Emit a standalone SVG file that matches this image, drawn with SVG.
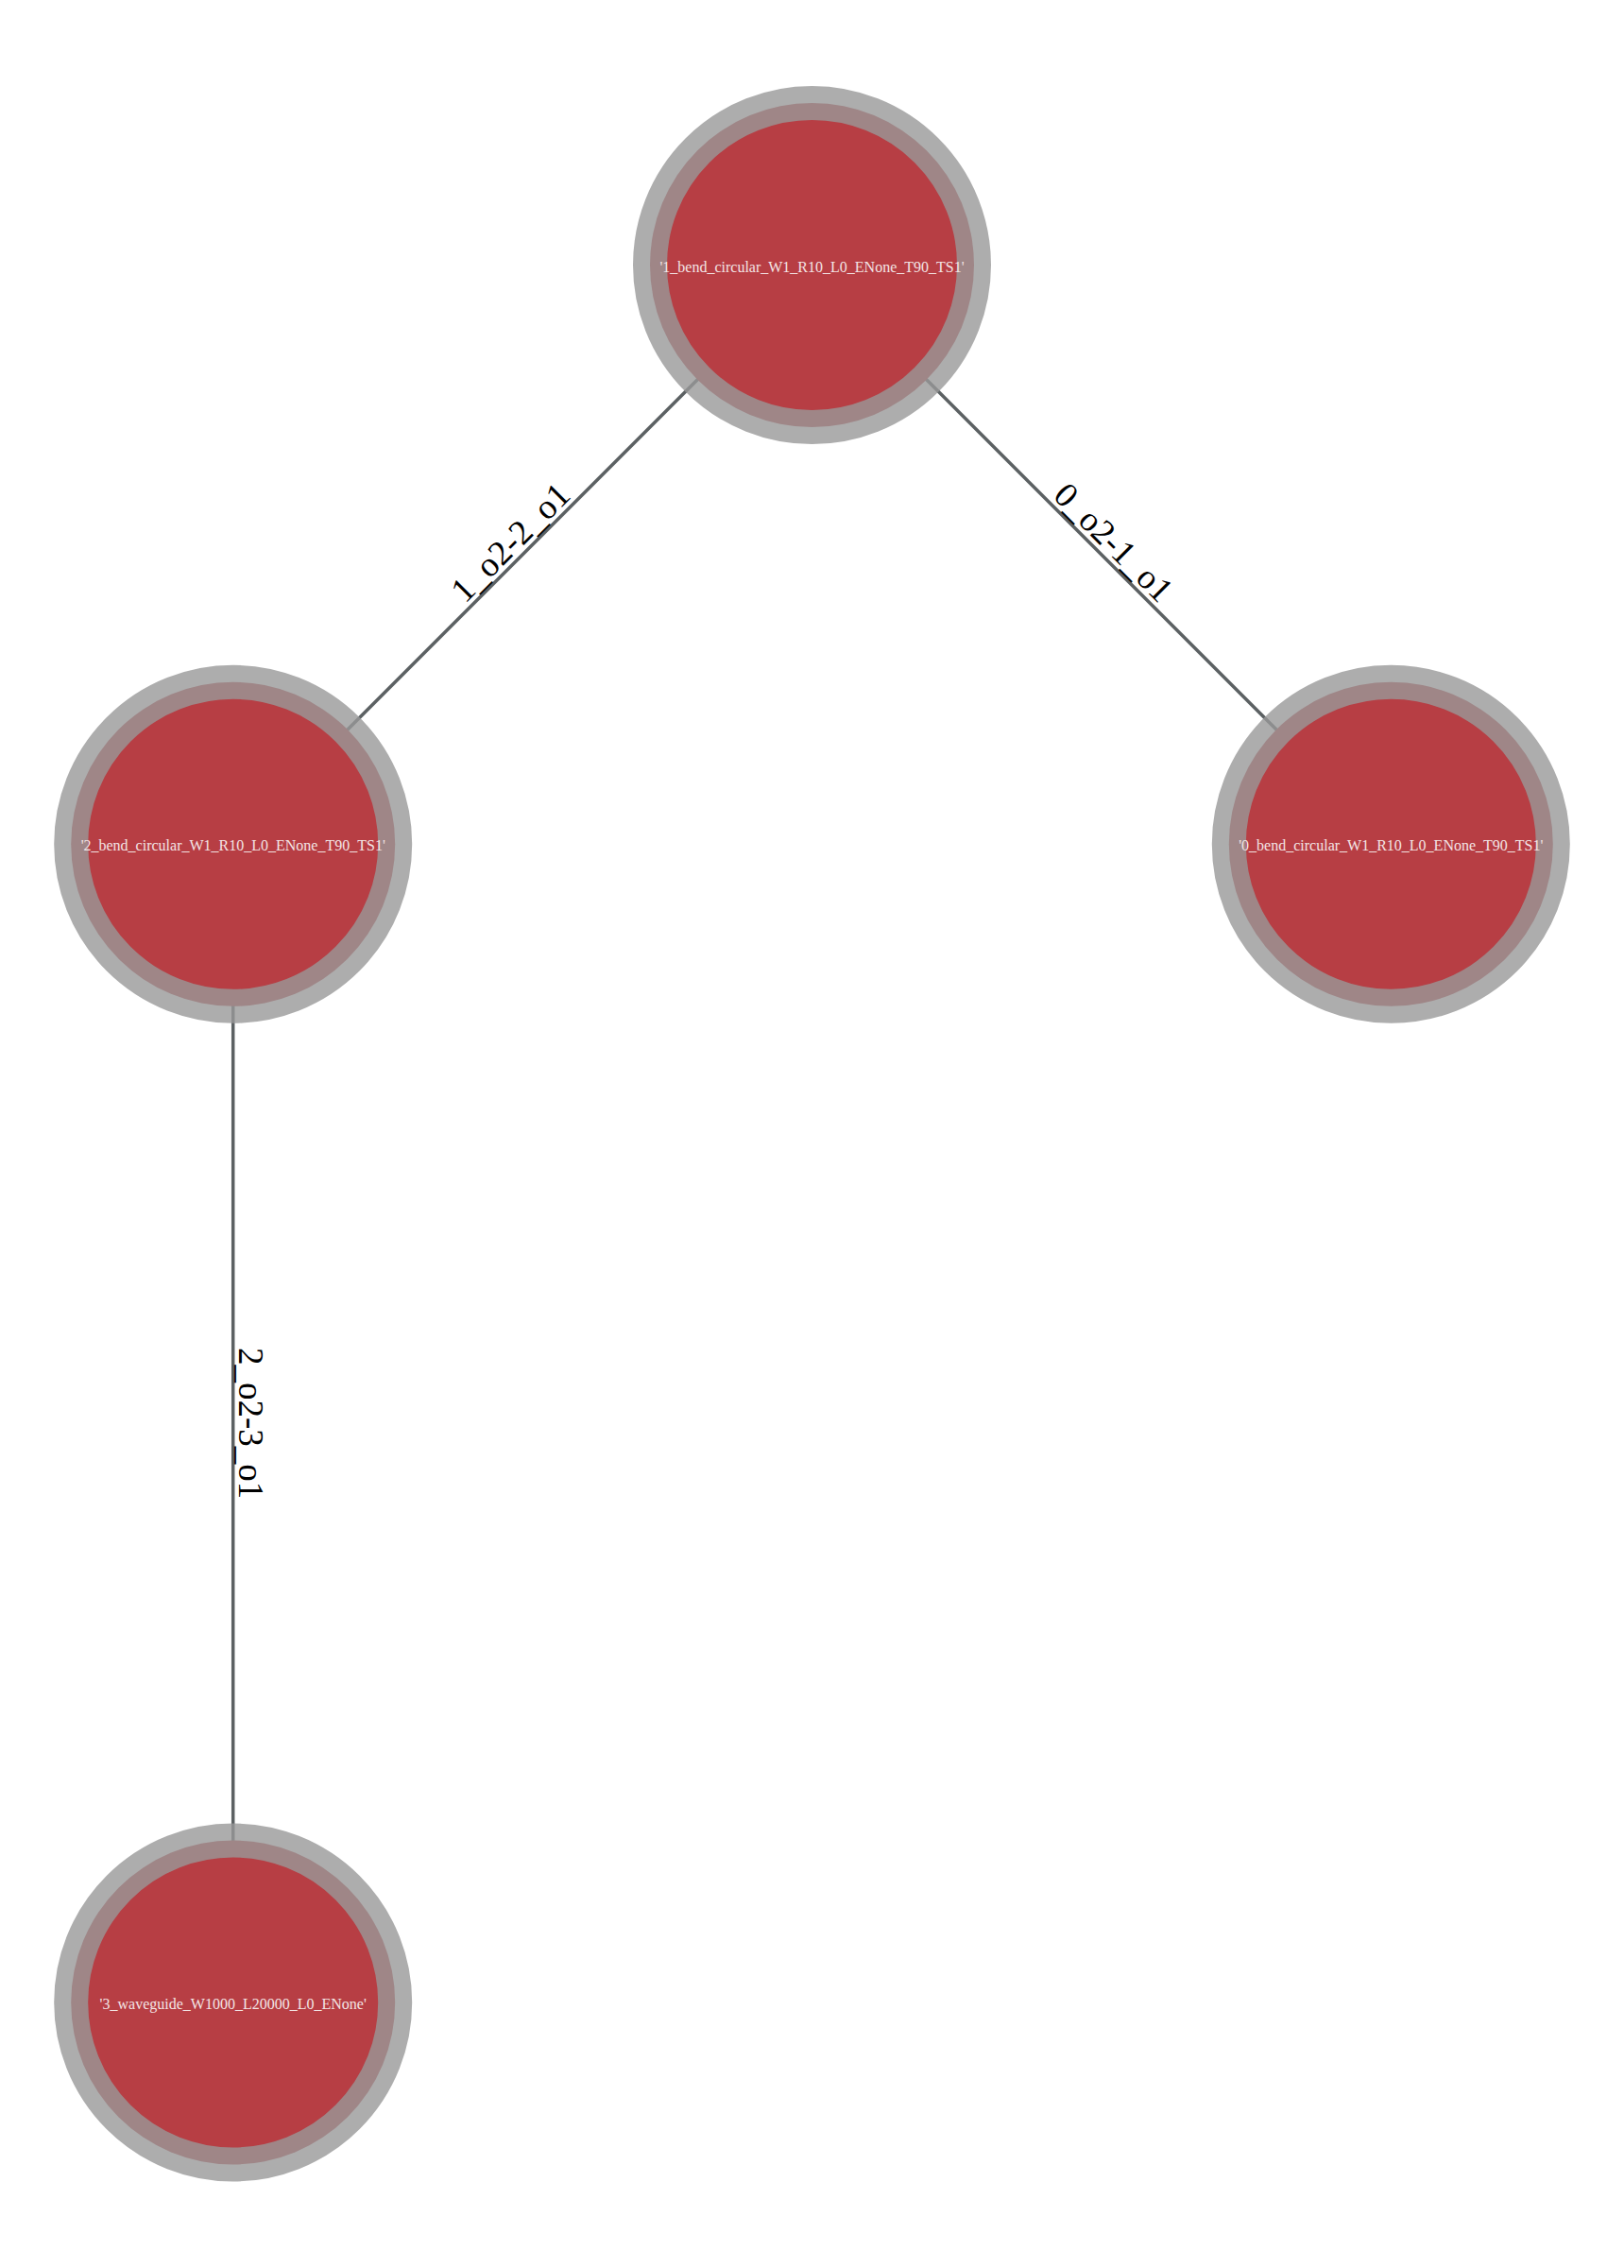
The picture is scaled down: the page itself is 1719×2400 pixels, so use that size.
<svg xmlns="http://www.w3.org/2000/svg" width="1719" height="2400" viewBox="0 0 1719 2400">
<style>
.edge{stroke:#5c6163;stroke-width:3.5;fill:none}
.node circle{fill:#b73e44;stroke:#999;stroke-opacity:0.8;stroke-width:36}
.node text{font-family:"Liberation Serif",serif;font-size:16px;fill:#f3e4e4;text-anchor:middle}
.elabel{font-family:"Liberation Serif",serif;font-size:37px;fill:#000;text-anchor:middle}
</style>
<rect width="1719" height="2400" fill="#fff"/>
<g id="connectors">
<line class="edge" x1="859.5" y1="280.5" x2="246.7" y2="893.3"/>
<line class="edge" x1="859.5" y1="280.5" x2="1472.3" y2="893.3"/>
<line class="edge" x1="246.7" y1="893.3" x2="246.7" y2="2119"/>
<text class="elabel" transform="translate(553.1,586.9) rotate(-45)" y="-6">1_o2-2_o1</text>
<text class="elabel" transform="translate(1165.9,586.9) rotate(45)" y="-6">0_o2-1_o1</text>
<text class="elabel" transform="translate(246.7,1506.2) rotate(90)" y="-6">2_o2-3_o1</text>
</g>
<g id="node1" class="node">
<circle cx="859.5" cy="280.5" r="171.5"/>
<text x="859.5" y="287.5">'1_bend_circular_W1_R10_L0_ENone_T90_TS1'</text>
</g>
<g id="node2" class="node">
<circle cx="246.7" cy="893.3" r="171.5"/>
<text x="246.7" y="900.3">'2_bend_circular_W1_R10_L0_ENone_T90_TS1'</text>
</g>
<g id="node0" class="node">
<circle cx="1472.3" cy="893.3" r="171.5"/>
<text x="1472.3" y="900.3">'0_bend_circular_W1_R10_L0_ENone_T90_TS1'</text>
</g>
<g id="node3" class="node">
<circle cx="246.7" cy="2119" r="171.5"/>
<text x="246.7" y="2126">'3_waveguide_W1000_L20000_L0_ENone'</text>
</g>
</svg>
